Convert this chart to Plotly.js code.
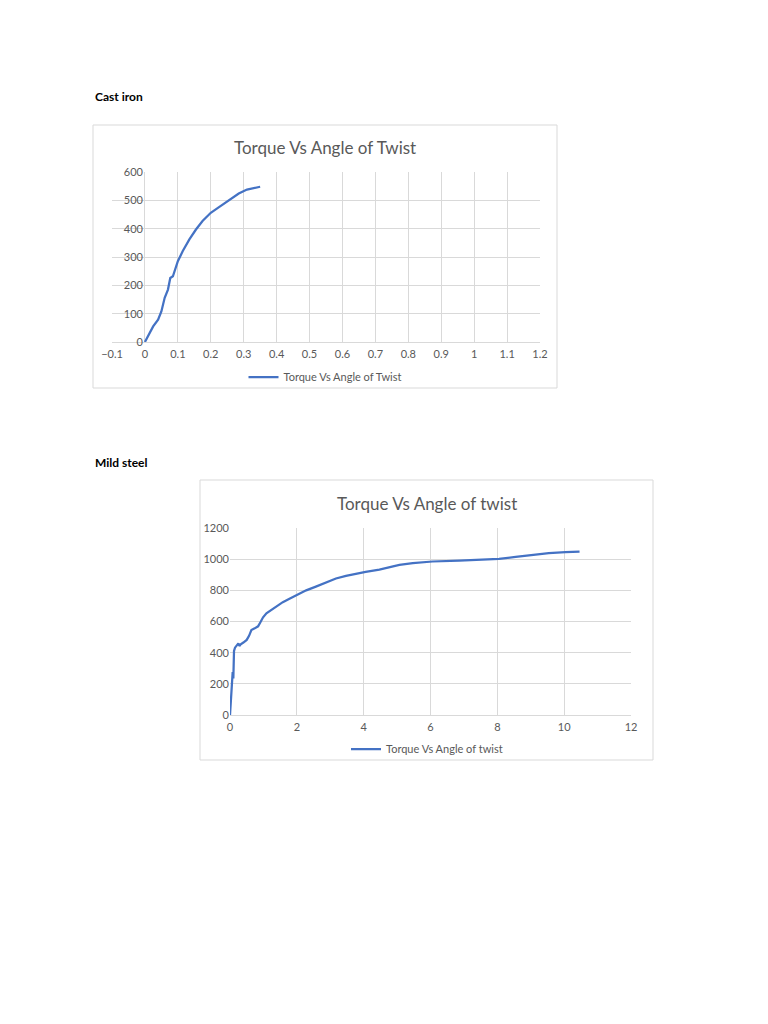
<!DOCTYPE html>
<html>
<head>
<meta charset="utf-8">
<script src="https://cdn.plot.ly/plotly-3.0.1.min.js"></script>
<style>
html,body{margin:0;padding:0;background:#fff;}
#chart{width:768px;height:1024px;}
</style>
</head>
<body>
<div id="chart"></div>
<script>
// Cast iron: angle of twist vs torque
const ciAngle  = [0, 0.015, 0.025, 0.04, 0.05, 0.06, 0.07, 0.077, 0.085, 0.1, 0.115, 0.135, 0.155, 0.175, 0.2, 0.225, 0.255, 0.285, 0.31, 0.33, 0.35];
const ciTorque = [0, 32, 55, 79, 108, 156, 185, 226, 232, 285, 321, 362, 397, 427, 456, 476, 500, 524, 538, 544, 548];

// Mild steel: angle of twist vs torque
const msAngle  = [0, 0.03, 0.06, 0.08, 0.1, 0.12, 0.15, 0.2, 0.25, 0.28, 0.32, 0.4, 0.5, 0.57, 0.64, 0.74, 0.84, 0.91, 0.99, 1.09, 1.19, 1.34, 1.49, 1.58, 1.78, 2.0, 2.28, 2.57, 2.87, 3.17, 3.47, 3.86, 4.06, 4.47, 5.07, 5.47, 6.06, 6.86, 7.55, 8.05, 8.55, 9.05, 9.54, 10.04, 10.46];
const msTorque = [0, 97, 205, 275, 235, 411, 432, 448, 460, 443, 454, 465, 482, 508, 545, 556, 569, 595, 627, 653, 668, 686, 708, 724, 746, 772, 800, 824, 850, 876, 893, 913, 919, 933, 963, 974, 985, 991, 996, 1002, 1015, 1028, 1039, 1045, 1049];

const sectionLabels = ['Cast iron', 'Mild steel'];
const chartTitles = ['Torque Vs Angle of Twist', 'Torque Vs Angle of twist'];
const seriesNames = ['Torque Vs Angle of Twist', 'Torque Vs Angle of twist'];

const W = 768, H = 1024;
const px = v => v / W;
const py = v => 1 - v / H;

const FONT = 'Lato, "Open Sans", sans-serif';
const GRID = '#d9d9d9';
const TXT = '#595959';
const BLUE = '#4472C4';

const traces = [
  {x: ciAngle, y: ciTorque, type: 'scatter', mode: 'lines', name: seriesNames[0],
   line: {color: BLUE, width: 2.25}, xaxis: 'x', yaxis: 'y', legend: 'legend'},
  {x: msAngle, y: msTorque, type: 'scatter', mode: 'lines', name: seriesNames[1],
   line: {color: BLUE, width: 2.25}, xaxis: 'x2', yaxis: 'y2', legend: 'legend2'}
];

const tickFont = {family: FONT, size: 11, color: TXT};

const layout = {
  width: W, height: H,
  margin: {l: 0, r: 0, t: 0, b: 0},
  paper_bgcolor: '#fff', plot_bgcolor: '#fff',
  showlegend: true,
  xaxis: {
    domain: [px(112), px(540)], anchor: 'y',
    range: [-0.1, 1.2], dtick: 0.1, tick0: 0,
    showgrid: true, gridcolor: GRID, gridwidth: 1,
    zeroline: false, showline: true, linecolor: GRID,
    ticks: '', tickfont: tickFont, fixedrange: true, ticklabelstandoff: 2
  },
  yaxis: {
    domain: [py(342), py(172)], anchor: 'free', position: px(143),
    range: [0, 600], dtick: 100,
    showgrid: true, gridcolor: GRID, gridwidth: 1,
    zeroline: false, showline: false,
    ticks: '', tickfont: tickFont, fixedrange: true
  },
  xaxis2: {
    domain: [px(230), px(631)], anchor: 'y2',
    range: [0, 12], dtick: 2,
    showgrid: true, gridcolor: GRID, gridwidth: 1,
    zeroline: false, showline: true, linecolor: GRID,
    ticks: '', tickfont: tickFont, fixedrange: true, ticklabelstandoff: 2
  },
  yaxis2: {
    domain: [py(715), py(528)], anchor: 'x2',
    range: [0, 1200], dtick: 200,
    showgrid: true, gridcolor: GRID, gridwidth: 1,
    zeroline: false, showline: false,
    ticks: '', tickfont: tickFont, fixedrange: true
  },
  legend: {
    x: px(325), y: py(377), xanchor: 'center', yanchor: 'middle',
    orientation: 'h', font: {family: FONT, size: 11, color: TXT},
    bgcolor: 'rgba(0,0,0,0)', itemwidth: 30
  },
  legend2: {
    x: px(427), y: py(749), xanchor: 'center', yanchor: 'middle',
    orientation: 'h', font: {family: FONT, size: 11, color: TXT},
    bgcolor: 'rgba(0,0,0,0)', itemwidth: 30
  },
  shapes: [
    {type: 'rect', xref: 'paper', yref: 'paper', x0: px(93), x1: px(557), y0: py(388), y1: py(125),
     line: {color: GRID, width: 1}, fillcolor: 'rgba(0,0,0,0)', layer: 'below'},
    {type: 'rect', xref: 'paper', yref: 'paper', x0: px(200), x1: px(653), y0: py(760), y1: py(480),
     line: {color: GRID, width: 1}, fillcolor: 'rgba(0,0,0,0)', layer: 'below'}
  ],
  annotations: [
    {text: '<b>' + sectionLabels[0] + '</b>', xref: 'paper', yref: 'paper', x: px(93), y: py(96),
     xanchor: 'left', yanchor: 'middle', showarrow: false,
     font: {family: 'Lato, "Liberation Sans", sans-serif', size: 12, color: '#000'}},
    {text: '<b>' + sectionLabels[1] + '</b>', xref: 'paper', yref: 'paper', x: px(93), y: py(462),
     xanchor: 'left', yanchor: 'middle', showarrow: false,
     font: {family: 'Lato, "Liberation Sans", sans-serif', size: 12, color: '#000'}},
    {text: chartTitles[0], xref: 'paper', yref: 'paper', x: px(325), y: py(147),
     xanchor: 'center', yanchor: 'middle', showarrow: false,
     font: {family: FONT, size: 17, color: TXT}},
    {text: chartTitles[1], xref: 'paper', yref: 'paper', x: px(427), y: py(503),
     xanchor: 'center', yanchor: 'middle', showarrow: false,
     font: {family: FONT, size: 17, color: TXT}}
  ]
};

Plotly.newPlot('chart', traces, layout, {displayModeBar: false, staticPlot: true});
</script>
</body>
</html>
